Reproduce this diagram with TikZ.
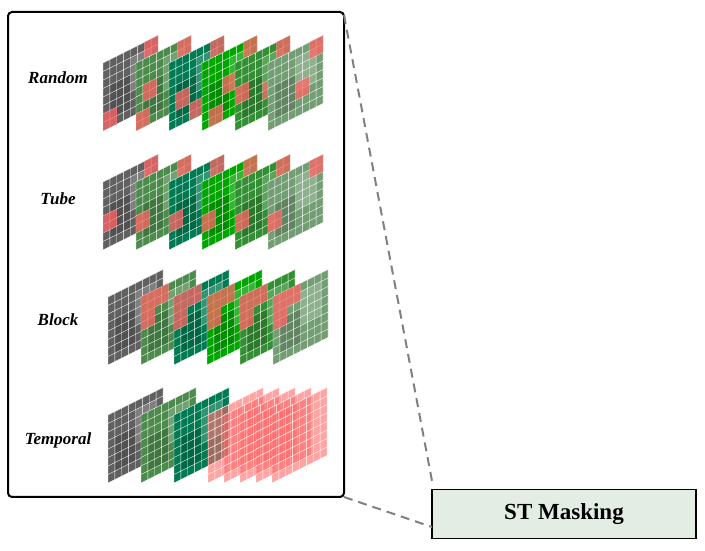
\documentclass[tikz,border=0pt]{standalone}
\usepackage{fontspec}
\setmainfont{Liberation Serif}
\begin{document}
\begin{tikzpicture}[x=1pt,y=1pt,
  lab/.style={font=\bfseries\itshape\fontsize{17}{19}\selectfont},
  patch/.style={fill=red!60!white,opacity=0.75}]
\useasboundingbox (0,0) rectangle (705,551);
\newcommand\vfr[4]{%
 \begin{scope}[shift={(#1,#2)},yslant=0.5]
  \fill[#3] (0,0) rectangle (55,68);
  \fill[black,opacity=0.15] (6.875,8.5) rectangle (27.5,42.5);
  \fill[white,opacity=0.2] (27.5,25.5) rectangle (48.1,59.5);
  \draw[white,line width=0.4pt,xstep=6.875,ystep=8.5] (0,0) grid (55,68);
  \foreach \i/\j in {#4} \fill[patch] (\i*6.875,\j*8.5) rectangle ++(13.75,17);
 \end{scope}}
\newcommand\rfr[2]{%
 \begin{scope}[shift={(#1,#2)},yslant=0.5]
  \fill[red!60!white,opacity=0.6] (0,0) rectangle (55,68);
  \draw[white,line width=0.4pt,xstep=6.875,ystep=8.5] (0,0) grid (55,68);
 \end{scope}}
\draw[line width=2pt,rounded corners=4pt] (8,54) rectangle (344,539);
\node[lab] (r) at (58,473) {Random};
\node[lab] (t) at (58,352) {Tube};
\node[lab] (b) at (58,231) {Block};
\node[lab] (tp) at (58,111) {Temporal};
% Random
\vfr{103}{420}{gray!75!black}{6/6,0/0}
\vfr{136}{420}{green!35!black!70!white}{6/6,1/3,0/0}
\vfr{169}{420}{teal!80!green!80!black}{6/6,1/2,3/0}
\vfr{202}{420}{green!65!black}{6/6,3/3,1/0}
\vfr{235}{420}{green!45!black!80!white}{6/6,0/3,4/2}
\vfr{268}{420}{green!30!black!55!white}{6/6,4/2}
% Tube
\foreach \xx/\cc in {103/gray!75!black,136/green!35!black!70!white,169/teal!80!green!80!black,202/green!65!black,235/green!45!black!80!white,268/green!30!black!55!white}
  \vfr{\xx}{301}{\cc}{6/6,0/2};
% Block
\vfr{108}{186}{gray!75!black}{}
\foreach \xx/\cc in {141/green!35!black!70!white,174/teal!80!green!80!black,207/green!65!black,240/green!45!black!80!white,273/green!30!black!55!white}
  \vfr{\xx}{186}{\cc}{0/6,2/6,0/4};
% Temporal
\vfr{108}{68}{gray!75!black}{}
\vfr{141}{68}{green!35!black!70!white}{}
\vfr{174}{68}{teal!80!green!80!black}{}
\foreach \xx in {208,224,240,256,272}
  \rfr{\xx}{68};
\node[draw=black,line width=1.6pt,fill=green!20!gray!18!white,minimum width=264pt,minimum height=49pt,
  font=\bfseries\fontsize{23}{25}\selectfont] (st) at (564,37) {ST Masking};
\draw[gray,line width=2pt,dash pattern=on 9pt off 6pt] (344,536) -- (432,70);
\draw[gray,line width=2pt,dash pattern=on 9pt off 6pt] (344,54) -- (432,24);
\end{tikzpicture}
\end{document}
